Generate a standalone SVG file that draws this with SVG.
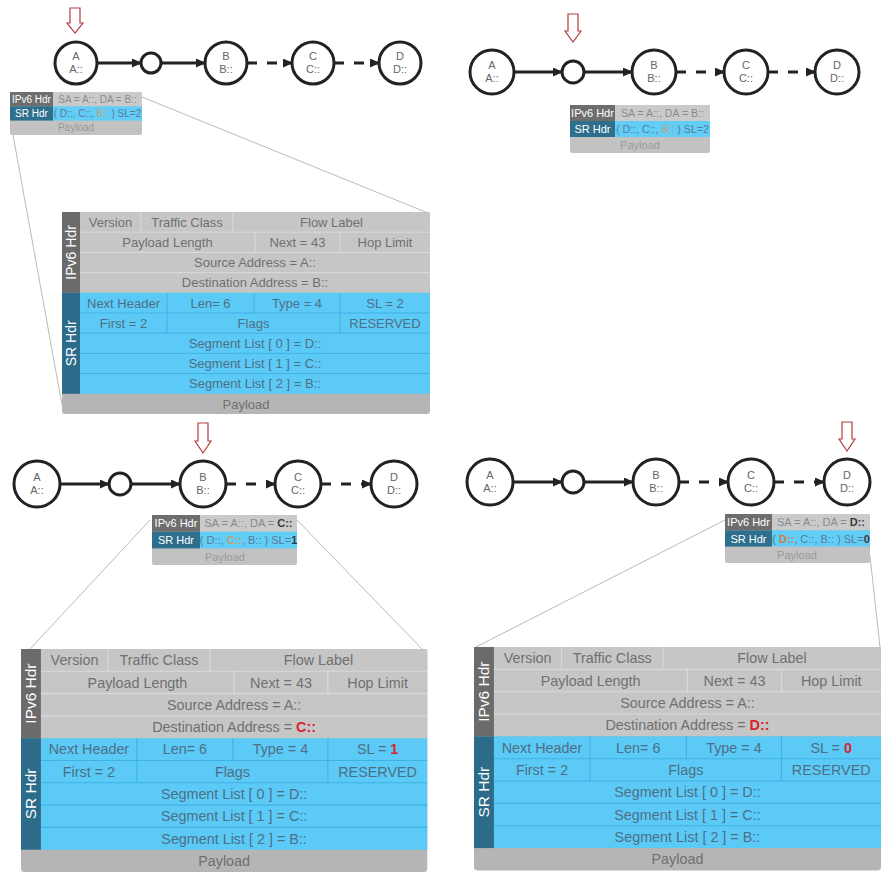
<svg xmlns="http://www.w3.org/2000/svg" xmlns:xlink="http://www.w3.org/1999/xlink" width="889" height="879" viewBox="0 0 889 879">
<style>
text{font-family:"Liberation Sans",Arial,"Noto Sans CJK SC",sans-serif}
.node circle{fill:#fff;stroke:#222;stroke-width:3}
.nl{font-size:11px;fill:#666;text-anchor:middle}
.conn{stroke:#222;stroke-width:3;fill:none}
.dash{stroke-dasharray:10 10}
.ptr{fill:#fff;stroke:#b23c3c;stroke-width:1.2}
.zl{stroke:#a8a8a8;stroke-width:0.8;fill:none}
.tg{font-size:13px;fill:#707070;text-anchor:middle}
.tb{font-size:13px;fill:#4d6f86;text-anchor:middle}
.vl{font-size:14px;fill:#fff;text-anchor:middle}
.red{fill:#d9232e;font-weight:bold}
.sepg{stroke:#dadada;stroke-width:1}
.sepb{stroke:#3fb2e4;stroke-width:1}
.sl{fill:#fff;text-anchor:middle}
.sg{fill:#8a8a8a;text-anchor:middle}
.sb{fill:#5a7a95;text-anchor:middle}
.sp{fill:#9a9a9a;text-anchor:middle}
.tan{fill:#c4a070}
.org{fill:#d07a3a;font-weight:bold}
.bd{fill:#3a3a3a;font-weight:bold}
</style>
<defs>
<marker id="ah" markerUnits="userSpaceOnUse" viewBox="0 0 10 9" markerWidth="10" markerHeight="9" refX="9" refY="4.5" orient="auto">
<path d="M0,0 L10,4.5 L0,9 Z" fill="#222"/>
</marker>
<g id="tbl">
<rect x="0" y="0" width="368" height="202" rx="3" fill="#b5b5b5"/>
<rect x="18" y="0" width="350" height="80.8" fill="#c6c6c6"/>
<rect x="0" y="0" width="18" height="80.8" fill="#6b6b6b"/>
<rect x="18" y="80.8" width="350" height="101" fill="#5ccaf6"/>
<rect x="0" y="80.8" width="18" height="101" fill="#2c6b89"/>
<path class="sepg" d="M18,20.2H368M18,40.4H368M18,60.6H368M79,0V20.2M171,0V20.2M193,20.2V40.4M278,20.2V40.4"/>
<path class="sepb" d="M18,101H368M18,121.2H368M18,141.4H368M18,161.6H368M105,80.8V121.2M192,80.8V101M278,80.8V121.2"/>
<text class="vl" transform="translate(9,40.4) rotate(-90)" y="5">IPv6 Hdr</text>
<text class="vl" transform="translate(9,131.3) rotate(-90)" y="5">SR Hdr</text>
<text class="tg" x="48.5" y="14.7">Version</text>
<text class="tg" x="125" y="14.7">Traffic Class</text>
<text class="tg" x="269.5" y="14.7">Flow Label</text>
<text class="tg" x="105.5" y="34.9">Payload Length</text>
<text class="tg" x="235.5" y="34.9">Next = 43</text>
<text class="tg" x="323" y="34.9">Hop Limit</text>
<text class="tg" x="193" y="55.1">Source Address = A::</text>
<text class="tb" x="61.5" y="95.5">Next Header</text>
<text class="tb" x="148.5" y="95.5">Len= 6</text>
<text class="tb" x="235" y="95.5">Type = 4</text>
<text class="tb" x="61.5" y="115.7">First = 2</text>
<text class="tb" x="191.5" y="115.7">Flags</text>
<text class="tb" x="323" y="115.7">RESERVED</text>
<text class="tb" x="193" y="135.9">Segment List [ 0 ] = D::</text>
<text class="tb" x="193" y="156.1">Segment List [ 1 ] = C::</text>
<text class="tb" x="193" y="176.3">Segment List [ 2 ] = B::</text>
<text class="tg" x="184" y="196.5">Payload</text>
</g>
</defs>
<rect width="889" height="879" fill="#fff"/>

<g id="callout-lines">
<path class="zl" d="M13,135 L62,405"/>
<path class="zl" d="M142,97 L428,213"/>
<path class="zl" d="M150,520 L30,649"/>
<path class="zl" d="M297,520 L422,649"/>
<path class="zl" d="M725,520 L476,647"/>
<path class="zl" d="M870,556 L880,647"/>
</g>

<g id="connectors">
<line class="conn" x1="97" y1="63" x2="141" y2="63" marker-end="url(#ah)"/>
<line class="conn" x1="161" y1="63" x2="205" y2="63" marker-end="url(#ah)"/>
<line class="conn dash" x1="247" y1="63" x2="292" y2="63" marker-end="url(#ah)"/>
<line class="conn dash" x1="334" y1="63" x2="379" y2="63" marker-end="url(#ah)"/>

<line class="conn" x1="514" y1="72" x2="562" y2="72" marker-end="url(#ah)"/>
<line class="conn" x1="584" y1="72" x2="632" y2="72" marker-end="url(#ah)"/>
<line class="conn dash" x1="676" y1="72" x2="724" y2="72" marker-end="url(#ah)"/>
<line class="conn dash" x1="768" y1="72" x2="815" y2="72" marker-end="url(#ah)"/>

<line class="conn" x1="60" y1="484" x2="109" y2="484" marker-end="url(#ah)"/>
<line class="conn" x1="131" y1="484" x2="180" y2="484" marker-end="url(#ah)"/>
<line class="conn dash" x1="226" y1="484" x2="275" y2="484" marker-end="url(#ah)"/>
<line class="conn dash" x1="321" y1="484" x2="371" y2="484" marker-end="url(#ah)"/>

<line class="conn" x1="513" y1="482" x2="562" y2="482" marker-end="url(#ah)"/>
<line class="conn" x1="584" y1="482" x2="633" y2="482" marker-end="url(#ah)"/>
<line class="conn dash" x1="679" y1="482" x2="728" y2="482" marker-end="url(#ah)"/>
<line class="conn dash" x1="774" y1="482" x2="824" y2="482" marker-end="url(#ah)"/>
</g>

<g id="pointers">
<path class="ptr" d="M70,8 H80 V23 H83 L75,33 L67,23 H70 Z"/>
<path class="ptr" d="M568,14 H578 V31 H581 L573,42 L565,31 H568 Z"/>
<path class="ptr" d="M198,423 H208 V441 H211 L203,453 L195,441 H198 Z"/>
<path class="ptr" d="M842,422 H852 V439 H855 L847,451 L839,439 H842 Z"/>
</g>

<!-- Panel 1 nodes -->
<g id="p1-A" class="node"><circle cx="76" cy="63" r="21"/><text class="nl" x="76" y="60">A</text><text class="nl" x="76" y="73">A::</text></g>
<g id="p1-R" class="node"><circle cx="151" cy="63" r="10"/></g>
<g id="p1-B" class="node"><circle cx="226" cy="63" r="21"/><text class="nl" x="226" y="60">B</text><text class="nl" x="226" y="73">B::</text></g>
<g id="p1-C" class="node"><circle cx="313" cy="63" r="21"/><text class="nl" x="313" y="60">C</text><text class="nl" x="313" y="73">C::</text></g>
<g id="p1-D" class="node"><circle cx="400" cy="63" r="21"/><text class="nl" x="400" y="60">D</text><text class="nl" x="400" y="73">D::</text></g>

<g id="p1-hdr">
<rect x="10" y="92" width="132" height="43" rx="2" fill="#c2c2c2"/>
<rect x="10" y="92" width="43" height="14.3" fill="#6e6e6e"/>
<rect x="53" y="92" width="89" height="14.3" fill="#cacaca"/>
<rect x="10" y="106.3" width="43" height="14.3" fill="#2e6f8e"/>
<rect x="53" y="106.3" width="89" height="14.3" fill="#62cef8"/>
<text class="sl" font-size="10" x="31.5" y="102.8">IPv6 Hdr</text>
<text class="sg" font-size="10" x="97.5" y="102.8">SA = A::, DA = B::</text>
<text class="sl" font-size="10" x="31.5" y="117.1">SR Hdr</text>
<text class="sb" font-size="10" x="97.5" y="117.1">( D::, C::, <tspan class="tan">B::</tspan> ) SL=2</text>
<text class="sp" font-size="10" x="76" y="131.4">Payload</text>
</g>

<g id="p1-table" transform="translate(62,212)">
<use href="#tbl" xlink:href="#tbl"/>
<text class="tg" x="193" y="75.3">Destination Address = B::</text>
<text class="tb" x="323" y="95.5">SL = 2</text>
</g>

<!-- Panel 2 nodes -->
<g id="p2-A" class="node"><circle cx="492" cy="72" r="22"/><text class="nl" x="492" y="69">A</text><text class="nl" x="492" y="82">A::</text></g>
<g id="p2-R" class="node"><circle cx="573" cy="72" r="11"/></g>
<g id="p2-B" class="node"><circle cx="654" cy="72" r="22"/><text class="nl" x="654" y="69">B</text><text class="nl" x="654" y="82">B::</text></g>
<g id="p2-C" class="node"><circle cx="746" cy="72" r="22"/><text class="nl" x="746" y="69">C</text><text class="nl" x="746" y="82">C::</text></g>
<g id="p2-D" class="node"><circle cx="837" cy="72" r="22"/><text class="nl" x="837" y="69">D</text><text class="nl" x="837" y="82">D::</text></g>

<g id="p2-hdr">
<rect x="570" y="105" width="140" height="48" rx="2" fill="#c2c2c2"/>
<rect x="570" y="105" width="45" height="16" fill="#6e6e6e"/>
<rect x="615" y="105" width="95" height="16" fill="#cacaca"/>
<rect x="570" y="121" width="45" height="16" fill="#2e6f8e"/>
<rect x="615" y="121" width="95" height="16" fill="#62cef8"/>
<text class="sl" font-size="11" x="592.5" y="117">IPv6 Hdr</text>
<text class="sg" font-size="10.6" x="662.5" y="117">SA = A::, DA = B::</text>
<text class="sl" font-size="11" x="592.5" y="133">SR Hdr</text>
<text class="sb" font-size="10.6" x="662.5" y="133">( D::, C::, <tspan class="tan">B::</tspan> ) SL=2</text>
<text class="sp" font-size="11" x="640" y="149">Payload</text>
</g>

<!-- Panel 3 nodes -->
<g id="p3-A" class="node"><circle cx="37" cy="484" r="23"/><text class="nl" x="37" y="481">A</text><text class="nl" x="37" y="494">A::</text></g>
<g id="p3-R" class="node"><circle cx="120" cy="484" r="11"/></g>
<g id="p3-B" class="node"><circle cx="203" cy="484" r="23"/><text class="nl" x="203" y="481">B</text><text class="nl" x="203" y="494">B::</text></g>
<g id="p3-C" class="node"><circle cx="298" cy="484" r="23"/><text class="nl" x="298" y="481">C</text><text class="nl" x="298" y="494">C::</text></g>
<g id="p3-D" class="node"><circle cx="394" cy="484" r="23"/><text class="nl" x="394" y="481">D</text><text class="nl" x="394" y="494">D::</text></g>

<g id="p3-hdr">
<rect x="152" y="515" width="145" height="50" rx="2" fill="#c2c2c2"/>
<rect x="152" y="515" width="48" height="16.7" fill="#6e6e6e"/>
<rect x="200" y="515" width="97" height="16.7" fill="#cacaca"/>
<rect x="152" y="531.7" width="48" height="16.7" fill="#2e6f8e"/>
<rect x="200" y="531.7" width="97" height="16.7" fill="#62cef8"/>
<text class="sl" font-size="11" x="176" y="527.3">IPv6 Hdr</text>
<text class="sg" font-size="11" x="248.5" y="527.3">SA = A::, DA = <tspan class="bd">C::</tspan></text>
<text class="sl" font-size="11" x="176" y="544">SR Hdr</text>
<text class="sb" font-size="11" x="248.5" y="544">( D::, <tspan class="tan" font-weight="bold">C::</tspan>, B:: ) SL=<tspan class="bd">1</tspan></text>
<text class="sp" font-size="11" x="225" y="560.7">Payload</text>
</g>

<g id="p3-table" transform="translate(21,649) scale(1.104)">
<use href="#tbl" xlink:href="#tbl"/>
<text class="tg" x="193" y="75.3">Destination Address = <tspan class="red">C::</tspan></text>
<text class="tb" x="323" y="95.5">SL = <tspan class="red">1</tspan></text>
</g>

<!-- Panel 4 nodes -->
<g id="p4-A" class="node"><circle cx="490" cy="482" r="23"/><text class="nl" x="490" y="479">A</text><text class="nl" x="490" y="492">A::</text></g>
<g id="p4-R" class="node"><circle cx="573" cy="482" r="11"/></g>
<g id="p4-B" class="node"><circle cx="656" cy="482" r="23"/><text class="nl" x="656" y="479">B</text><text class="nl" x="656" y="492">B::</text></g>
<g id="p4-C" class="node"><circle cx="751" cy="482" r="23"/><text class="nl" x="751" y="479">C</text><text class="nl" x="751" y="492">C::</text></g>
<g id="p4-D" class="node"><circle cx="847" cy="482" r="23"/><text class="nl" x="847" y="479">D</text><text class="nl" x="847" y="492">D::</text></g>

<g id="p4-hdr">
<rect x="725" y="514" width="145" height="49" rx="2" fill="#c2c2c2"/>
<rect x="725" y="514" width="47" height="16.3" fill="#6e6e6e"/>
<rect x="772" y="514" width="98" height="16.3" fill="#cacaca"/>
<rect x="725" y="530.3" width="47" height="16.3" fill="#2e6f8e"/>
<rect x="772" y="530.3" width="98" height="16.3" fill="#62cef8"/>
<text class="sl" font-size="11" x="748.5" y="526.2">IPv6 Hdr</text>
<text class="sg" font-size="11" x="821" y="526.2">SA = A::, DA = <tspan class="bd">D::</tspan></text>
<text class="sl" font-size="11" x="748.5" y="542.5">SR Hdr</text>
<text class="sb" font-size="11" x="821" y="542.5">( <tspan class="org">D::</tspan>, C::, B:: ) SL=<tspan class="bd">0</tspan></text>
<text class="sp" font-size="11" x="797" y="558.8">Payload</text>
</g>

<g id="p4-table" transform="translate(474,647) scale(1.106)">
<use href="#tbl" xlink:href="#tbl"/>
<text class="tg" x="193" y="75.3">Destination Address = <tspan class="red">D::</tspan></text>
<text class="tb" x="323" y="95.5">SL = <tspan class="red">0</tspan></text>
</g>
</svg>
